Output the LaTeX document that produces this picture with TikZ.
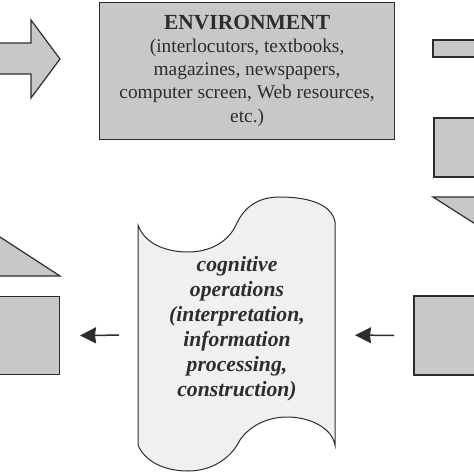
\documentclass[tikz,border=0pt]{standalone}
\usepackage{fontspec}
\setmainfont{Liberation Serif}
\usetikzlibrary{arrows.meta,positioning}
\definecolor{boxgray}{RGB}{200,200,200}
\definecolor{paper}{RGB}{240,240,240}
\definecolor{edge}{RGB}{45,45,45}
\tikzset{blk/.style={draw=edge,fill=boxgray,line width=1.2pt},
  arr/.style={draw=edge,line width=1.5pt,-{Stealth[length=16pt,width=16pt,inset=1pt]}}}

\begin{document}
\begin{tikzpicture}[x=1pt,y=-1pt]
\path[use as bounding box] (0,0) rectangle (474,474);
% arrow into the environment
\draw[blk] (-5,43) -- (31,43) -- (31,20) -- (60,59) -- (31,98) -- (31,74) -- (-5,74) -- cycle;
\node[blk, minimum width=295pt, minimum height=137pt, anchor=north west, inner sep=0pt,
      align=center, text=edge, font=\fontsize{19.4}{23.3}\selectfont] (env) at (99,1.5)
  {{\fontsize{21.5}{23.3}\selectfont\bfseries ENVIRONMENT}\\(interlocutors, textbooks,\\magazines, newspapers,\\computer screen, Web resources,\\etc.)};
% shapes cut by the right edge
\draw[blk] (433,40) rectangle (480,57);
\draw[blk, line width=1.6pt] (434,118) rectangle (480,177);
\draw[blk] (433,197) -- (480,197) -- (480,227) -- cycle;
% shapes cut by the left edge
\draw[blk] (-10,230.5) -- (60,276) -- (-10,276) -- cycle;
\node[blk, minimum width=70pt, minimum height=78pt, anchor=north east, inner sep=0pt] (leftbox) at (60,296) {};
\node[blk, line width=2pt, minimum width=70pt, minimum height=79pt, anchor=north west, inner sep=0pt] (rightbox) at (413,295) {};
% scroll
\draw[draw=edge, fill=paper, line width=1pt]
  (138,225) .. controls (145,245) and (168,252) .. (188,252)
  .. controls (210,252) and (228,242) .. (236,225)
  .. controls (245,205) and (260,197) .. (280,197)
  .. controls (310,197) and (332,205) .. (335,222)
  -- (335,445)
  .. controls (332,428) and (310,417) .. (287,417)
  .. controls (265,417) and (248,428) .. (240,440)
  .. controls (230,460) and (210,471) .. (188,471)
  .. controls (165,471) and (145,462) .. (138,445) -- cycle;
\node[align=center, inner sep=0pt, text=edge, font=\bfseries\itshape\fontsize{21.7}{25}\selectfont] (ops) at (237,329)
  {cognitive\\operations\\(interpretation,\\information\\processing,\\construction)};
\coordinate (opsW) at (138,335);
\coordinate (opsE) at (335,335);
\draw[arr, shorten <=19pt, shorten >=20pt] (opsW) -- (leftbox.east);
\draw[arr, shorten <=19pt, shorten >=20pt] (rightbox.west) -- (opsE);
\end{tikzpicture}
\end{document}
